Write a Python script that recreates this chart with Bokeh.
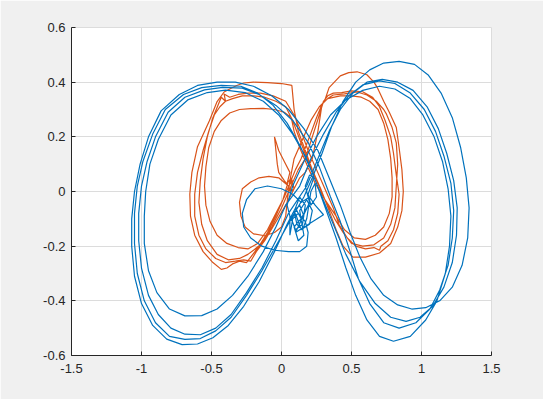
from bokeh.plotting import figure
from bokeh.models import FixedTicker, Range1d
from bokeh.embed import file_html
from bokeh.resources import INLINE

# ---- tick marks / labels ----
x_ticks = [-1.5, -1, -0.5, 0, 0.5, 1, 1.5]
x_tick_labels = ["-1.5", "-1", "-0.5", "0", "0.5", "1", "1.5"]
y_ticks = [-0.6, -0.4, -0.2, 0, 0.2, 0.4, 0.6]
y_tick_labels = ["-0.6", "-0.4", "-0.2", "0", "0.2", "0.4", "0.6"]

# ---- series 1 (blue): traced points, segment by segment ----
blue_start = [(0.18, -0.06), (0.14, -0.1), (0.1, -0.06), (0.13, -0.02), (0.17, -0.05), (0.15, -0.12),
              (0.1, -0.14), (0.07, -0.1), (0.1, -0.08), (0.14, -0.14), (0.2, -0.12), (0.22, -0.07),
              (0.18, -0.03), (0.13, -0.07), (0.16, -0.16), (0.12, -0.18), (0.09, -0.13), (0.12, -0.11),
              (0.16, -0.09), (0.13, -0.05), (0.09, -0.07), (0.11, -0.12), (0.15, -0.14), (0.18, -0.1),
              (0.21, 0.0), (0.24, 0.03), (0.25, -0.02), (0.21, -0.05), (0.19, -0.01), (0.23, 0.05),
              (0.2, 0.06), (0.17, 0.02), (0.2, -0.04), (0.1, -0.15), (0.3, -0.085), (0.24, -0.05),
              (0.2, -0.02), (0.14, -0.04), (0.08, -0.01)]
blue_small_loop = [(0.0, 0.01), (-0.1, 0.02), (-0.19, 0.01), (-0.25, -0.03), (-0.28, -0.08), (-0.27, -0.13),
                   (-0.22, -0.17), (-0.14, -0.2), (-0.05, -0.215), (0.05, -0.22), (0.13, -0.22), (0.18, -0.2),
                   (0.19, -0.15), (0.17, -0.11), (0.12, -0.08), (0.08, -0.1), (0.06, -0.16), (0.06, -0.09),
                   (0.04, -0.05)]
blue_loop4 = [(0.08, 0.02), (0.16, 0.11), (0.25, 0.2), (0.35, 0.28), (0.46, 0.335), (0.58, 0.37), (0.70, 0.385),
              (0.81, 0.375), (0.92, 0.34), (1.01, 0.28), (1.09, 0.2), (1.15, 0.11), (1.19, 0.01), (1.21, -0.09),
              (1.2, -0.2), (1.17, -0.3), (1.11, -0.4), (1.03, -0.47), (0.92, -0.53), (0.80, -0.548), (0.7, -0.53),
              (0.61, -0.47), (0.53, -0.38), (0.46, -0.28), (0.39, -0.17), (0.32, -0.07), (0.25, 0.03),
              (0.17, 0.13), (0.08, 0.21), (-0.02, 0.28), (-0.13, 0.33), (-0.26, 0.362), (-0.4, 0.371),
              (-0.53, 0.362), (-0.67, 0.335), (-0.79, 0.28), (-0.88, 0.19), (-0.94, 0.1), (-0.97, 0.0),
              (-0.98, -0.09), (-0.98, -0.19), (-0.95, -0.29), (-0.89, -0.37), (-0.8, -0.43), (-0.69, -0.455),
              (-0.57, -0.454), (-0.46, -0.43), (-0.35, -0.38), (-0.24, -0.31), (-0.13, -0.22), (-0.04, -0.13),
              (0.03, -0.05)]
blue_loop3 = [(0.13, 0.02), (0.21, 0.12), (0.3, 0.21), (0.39, 0.29), (0.48, 0.35), (0.58, 0.39), (0.70, 0.405),
              (0.81, 0.395), (0.92, 0.36), (1.02, 0.3), (1.1, 0.22), (1.16, 0.13), (1.21, 0.03), (1.23, -0.07),
              (1.22, -0.17), (1.19, -0.27), (1.13, -0.36), (1.06, -0.43), (0.96, -0.48), (0.84, -0.50),
              (0.73, -0.48), (0.63, -0.41), (0.55, -0.32), (0.49, -0.22), (0.42, -0.11), (0.35, -0.02),
              (0.27, 0.09), (0.19, 0.18), (0.08, 0.26), (-0.04, 0.315), (-0.16, 0.355), (-0.28, 0.378),
              (-0.42, 0.381), (-0.55, 0.372), (-0.69, 0.345), (-0.81, 0.29), (-0.9, 0.2), (-0.96, 0.11),
              (-1.0, 0.02), (-1.02, -0.08), (-1.02, -0.18), (-1.0, -0.28), (-0.95, -0.38), (-0.88, -0.45),
              (-0.79, -0.5), (-0.69, -0.522), (-0.58, -0.524), (-0.47, -0.5), (-0.36, -0.45), (-0.25, -0.37),
              (-0.14, -0.28), (-0.04, -0.18), (0.05, -0.08)]
blue_loop2 = [(0.18, 0.02), (0.26, 0.12), (0.34, 0.22), (0.42, 0.3), (0.51, 0.36), (0.61, 0.4), (0.72, 0.41),
              (0.83, 0.4), (0.94, 0.37), (1.04, 0.31), (1.12, 0.23), (1.18, 0.14), (1.23, 0.04), (1.255, -0.06),
              (1.25, -0.16), (1.22, -0.26), (1.16, -0.35), (1.08, -0.42), (0.99, -0.46), (0.89, -0.475),
              (0.78, -0.46), (0.67, -0.41), (0.56, -0.33), (0.46, -0.23), (0.37, -0.12), (0.29, -0.02),
              (0.21, 0.08), (0.13, 0.17), (0.04, 0.25), (-0.06, 0.315), (-0.17, 0.36), (-0.29, 0.385),
              (-0.43, 0.388), (-0.57, 0.38), (-0.7, 0.355), (-0.83, 0.3), (-0.92, 0.21), (-0.99, 0.11),
              (-1.03, 0.02), (-1.05, -0.08), (-1.05, -0.19), (-1.03, -0.3), (-0.98, -0.4), (-0.9, -0.48),
              (-0.8, -0.53), (-0.69, -0.541), (-0.58, -0.538), (-0.47, -0.51), (-0.36, -0.46), (-0.25, -0.38),
              (-0.14, -0.29), (-0.03, -0.19), (0.08, -0.09)]
blue_loop1 = [(0.16, -0.02), (0.22, 0.05), (0.29, 0.14), (0.36, 0.24), (0.44, 0.33), (0.53, 0.4), (0.63, 0.445),
              (0.73, 0.47), (0.84, 0.476), (0.95, 0.465), (1.05, 0.425), (1.14, 0.36), (1.22, 0.27), (1.28, 0.16),
              (1.32, 0.05), (1.34, -0.06), (1.33, -0.17), (1.29, -0.27), (1.22, -0.35), (1.13, -0.4),
              (1.03, -0.425), (0.93, -0.43), (0.83, -0.415), (0.73, -0.38), (0.64, -0.32), (0.56, -0.24),
              (0.49, -0.15), (0.42, -0.05), (0.34, 0.05), (0.26, 0.15), (0.16, 0.23), (0.05, 0.3),
              (-0.07, 0.35), (-0.2, 0.385), (-0.33, 0.4), (-0.46, 0.4), (-0.6, 0.388), (-0.73, 0.355),
              (-0.86, 0.295), (-0.95, 0.2), (-1.01, 0.1), (-1.05, 0.0), (-1.07, -0.1), (-1.07, -0.2),
              (-1.05, -0.31), (-1.0, -0.41), (-0.92, -0.49), (-0.82, -0.54), (-0.71, -0.56), (-0.6, -0.558),
              (-0.49, -0.535), (-0.38, -0.49), (-0.27, -0.42), (-0.16, -0.33), (-0.05, -0.22), (0.04, -0.12),
              (0.1, -0.06)]

# ---- series 2 (orange): traced points, segment by segment ----
orange_start = [(0.05, 0.02), (0.08, 0.04), (0.06, 0.0), (0.09, 0.01), (0.07, 0.05), (0.04, 0.03), (0.06, 0.07),
                (0.03, 0.1), (-0.02, 0.15), (-0.05, 0.2), (-0.04, 0.15), (-0.03, 0.1), (-0.02, 0.07),
                (0.02, 0.04), (0.05, 0.02)]
orange_small_loop = [(-0.02, 0.05), (-0.09, 0.055), (-0.16, 0.05), (-0.22, 0.035), (-0.28, 0.01), (-0.3, -0.04),
                     (-0.29, -0.09), (-0.26, -0.13), (-0.2, -0.155), (-0.12, -0.162), (-0.05, -0.15),
                     (0.0, -0.13), (0.03, -0.09), (0.04, -0.04), (0.06, 0.04)]
orange_loop_a = [(0.09, 0.12), (0.15, 0.19), (0.21, 0.26), (0.27, 0.31), (0.33, 0.34), (0.42, 0.35), (0.5, 0.35),
                 (0.57, 0.345), (0.63, 0.33), (0.69, 0.3), (0.73, 0.25), (0.76, 0.19), (0.78, 0.12), (0.79, 0.05),
                 (0.79, -0.02), (0.77, -0.08), (0.73, -0.13), (0.67, -0.16), (0.6, -0.175), (0.52, -0.17),
                 (0.45, -0.14), (0.39, -0.09), (0.31, -0.03), (0.24, 0.03), (0.18, 0.1), (0.13, 0.16),
                 (0.09, 0.22), (0.07, 0.27), (0.02, 0.29), (-0.05, 0.3), (-0.13, 0.304), (-0.22, 0.303),
                 (-0.3, 0.3), (-0.37, 0.287), (-0.43, 0.26), (-0.48, 0.22), (-0.52, 0.16), (-0.54, 0.09),
                 (-0.55, 0.02), (-0.54, -0.05), (-0.51, -0.11), (-0.46, -0.16), (-0.39, -0.19), (-0.31, -0.205),
                 (-0.24, -0.21), (-0.17, -0.19), (-0.1, -0.14), (-0.04, -0.08), (0.02, -0.02), (0.06, 0.03),
                 (0.1, 0.08)]
orange_loop_b = [(0.14, 0.12), (0.2, 0.2), (0.25, 0.27), (0.29, 0.32), (0.33, 0.34), (0.37, 0.353), (0.45, 0.357),
                 (0.54, 0.364), (0.61, 0.353), (0.68, 0.329), (0.73, 0.3), (0.75, 0.283), (0.79, 0.234),
                 (0.82, 0.178), (0.83, 0.1), (0.82, 0.02), (0.81, -0.06), (0.78, -0.12), (0.73, -0.17),
                 (0.66, -0.195), (0.58, -0.2), (0.5, -0.19), (0.44, -0.15), (0.38, -0.1), (0.31, -0.03),
                 (0.25, 0.04), (0.19, 0.11), (0.13, 0.19), (0.08, 0.26), (0.03, 0.31), (-0.04, 0.33),
                 (-0.12, 0.345), (-0.2, 0.35), (-0.28, 0.35), (-0.35, 0.34), (-0.4, 0.33), (-0.43, 0.345),
                 (-0.45, 0.32), (-0.49, 0.27), (-0.53, 0.2), (-0.56, 0.12), (-0.58, 0.04), (-0.59, -0.04),
                 (-0.57, -0.12), (-0.53, -0.18), (-0.46, -0.23), (-0.38, -0.25), (-0.3, -0.245), (-0.24, -0.23),
                 (-0.2, -0.215), (-0.14, -0.19), (-0.07, -0.13), (0.0, -0.06), (0.06, 0.01), (0.12, 0.08)]
orange_loop_c = [(0.17, 0.12), (0.22, 0.2), (0.27, 0.28), (0.3, 0.33), (0.33, 0.35), (0.37, 0.36), (0.43, 0.362),
                 (0.5, 0.368), (0.58, 0.365), (0.65, 0.345), (0.7, 0.31), (0.74, 0.26), (0.78, 0.2), (0.8, 0.14),
                 (0.82, 0.06), (0.84, -0.01), (0.83, -0.08), (0.8, -0.14), (0.76, -0.18), (0.71, -0.2),
                 (0.7, -0.215), (0.66, -0.205), (0.6, -0.21), (0.53, -0.2), (0.47, -0.17), (0.41, -0.12),
                 (0.37, -0.06), (0.31, 0.01), (0.25, 0.08), (0.19, 0.15), (0.14, 0.22), (0.09, 0.28),
                 (0.03, 0.33), (-0.06, 0.35), (-0.15, 0.36), (-0.24, 0.36), (-0.31, 0.355), (-0.37, 0.345),
                 (-0.41, 0.357), (-0.4, 0.33), (-0.44, 0.31), (-0.48, 0.28), (-0.52, 0.22), (-0.56, 0.15),
                 (-0.6, 0.07), (-0.62, -0.01), (-0.62, -0.09), (-0.59, -0.16), (-0.54, -0.21), (-0.47, -0.245),
                 (-0.4, -0.26), (-0.33, -0.255), (-0.27, -0.25), (-0.22, -0.255), (-0.18, -0.22), (-0.12, -0.18),
                 (-0.05, -0.12), (0.03, -0.05), (0.09, 0.01), (0.13, 0.05)]
orange_loop_d = [(0.17, 0.07), (0.22, 0.12), (0.26, 0.22), (0.29, 0.32), (0.31, 0.335), (0.34, 0.38), (0.42, 0.423),
                 (0.48, 0.435), (0.54, 0.438), (0.61, 0.427), (0.66, 0.4), (0.685, 0.38), (0.73, 0.33),
                 (0.77, 0.29), (0.82, 0.234), (0.84, 0.16), (0.86, 0.08), (0.87, 0.0), (0.86, -0.07),
                 (0.83, -0.13), (0.78, -0.19), (0.7, -0.225), (0.6, -0.24), (0.51, -0.24), (0.44, -0.2),
                 (0.39, -0.14), (0.34, -0.07), (0.28, 0.01), (0.22, 0.08), (0.17, 0.15), (0.12, 0.22),
                 (0.09, 0.3), (0.074, 0.388), (0.0, 0.395), (-0.1, 0.398), (-0.2, 0.4), (-0.27, 0.397),
                 (-0.32, 0.388), (-0.37, 0.375), (-0.41, 0.364), (-0.46, 0.329), (-0.515, 0.259), (-0.6, 0.164),
                 (-0.64, 0.07), (-0.655, -0.01), (-0.65, -0.09), (-0.62, -0.16), (-0.56, -0.22), (-0.49, -0.26),
                 (-0.43, -0.285), (-0.39, -0.28), (-0.35, -0.265), (-0.3, -0.255), (-0.25, -0.26), (-0.22, -0.24),
                 (-0.16, -0.2), (-0.1, -0.15), (-0.04, -0.09), (0.01, -0.03), (0.05, 0.04)]

blue_path = blue_start + blue_small_loop + blue_loop4 + blue_loop3 + blue_loop2 + blue_loop1
orange_path = orange_start + orange_small_loop + orange_loop_a + orange_loop_b + orange_loop_c + orange_loop_d

BLUE = "#0072BD"
ORANGE = "#D95319"
AXIS = "#262626"
FONT = "Liberation Sans"

p = figure(width=543, height=399, output_backend="svg", toolbar_location=None,
           x_range=Range1d(-1.5, 1.5), y_range=Range1d(-0.6, 0.6),
           min_border_left=71, min_border_right=52, min_border_top=27, min_border_bottom=44)
p.border_fill_color = "#f0f0f0"
p.background_fill_color = "white"
p.outline_line_color = "#dcdcdc"

p.line([pt[0] for pt in orange_path], [pt[1] for pt in orange_path], line_color=ORANGE, line_width=1.2)
p.line([pt[0] for pt in blue_path], [pt[1] for pt in blue_path], line_color=BLUE, line_width=1.2)

p.xaxis.ticker = FixedTicker(ticks=x_ticks)
p.yaxis.ticker = FixedTicker(ticks=y_ticks)
p.xaxis.major_label_overrides = dict(zip(x_ticks, x_tick_labels))
p.yaxis.major_label_overrides = dict(zip(y_ticks, y_tick_labels))

for ax in (p.xaxis[0], p.yaxis[0]):
    ax.axis_line_color = AXIS
    ax.axis_line_width = 1
    ax.major_tick_line_color = AXIS
    ax.major_tick_in = 4
    ax.major_tick_out = 0
    ax.minor_tick_line_color = None
    ax.major_label_text_color = AXIS
    ax.major_label_text_font = FONT
    ax.major_label_text_font_size = "13px"
p.xaxis.major_label_standoff = 8
p.yaxis.major_label_standoff = 6

p.grid.grid_line_color = "#dcdcdc"
p.grid.grid_line_width = 1

html = file_html(p, INLINE)
html = html.replace("<body>", '<body style="background-color:#f0f0f0;">', 1)
open("out.html", "w").write(html)
